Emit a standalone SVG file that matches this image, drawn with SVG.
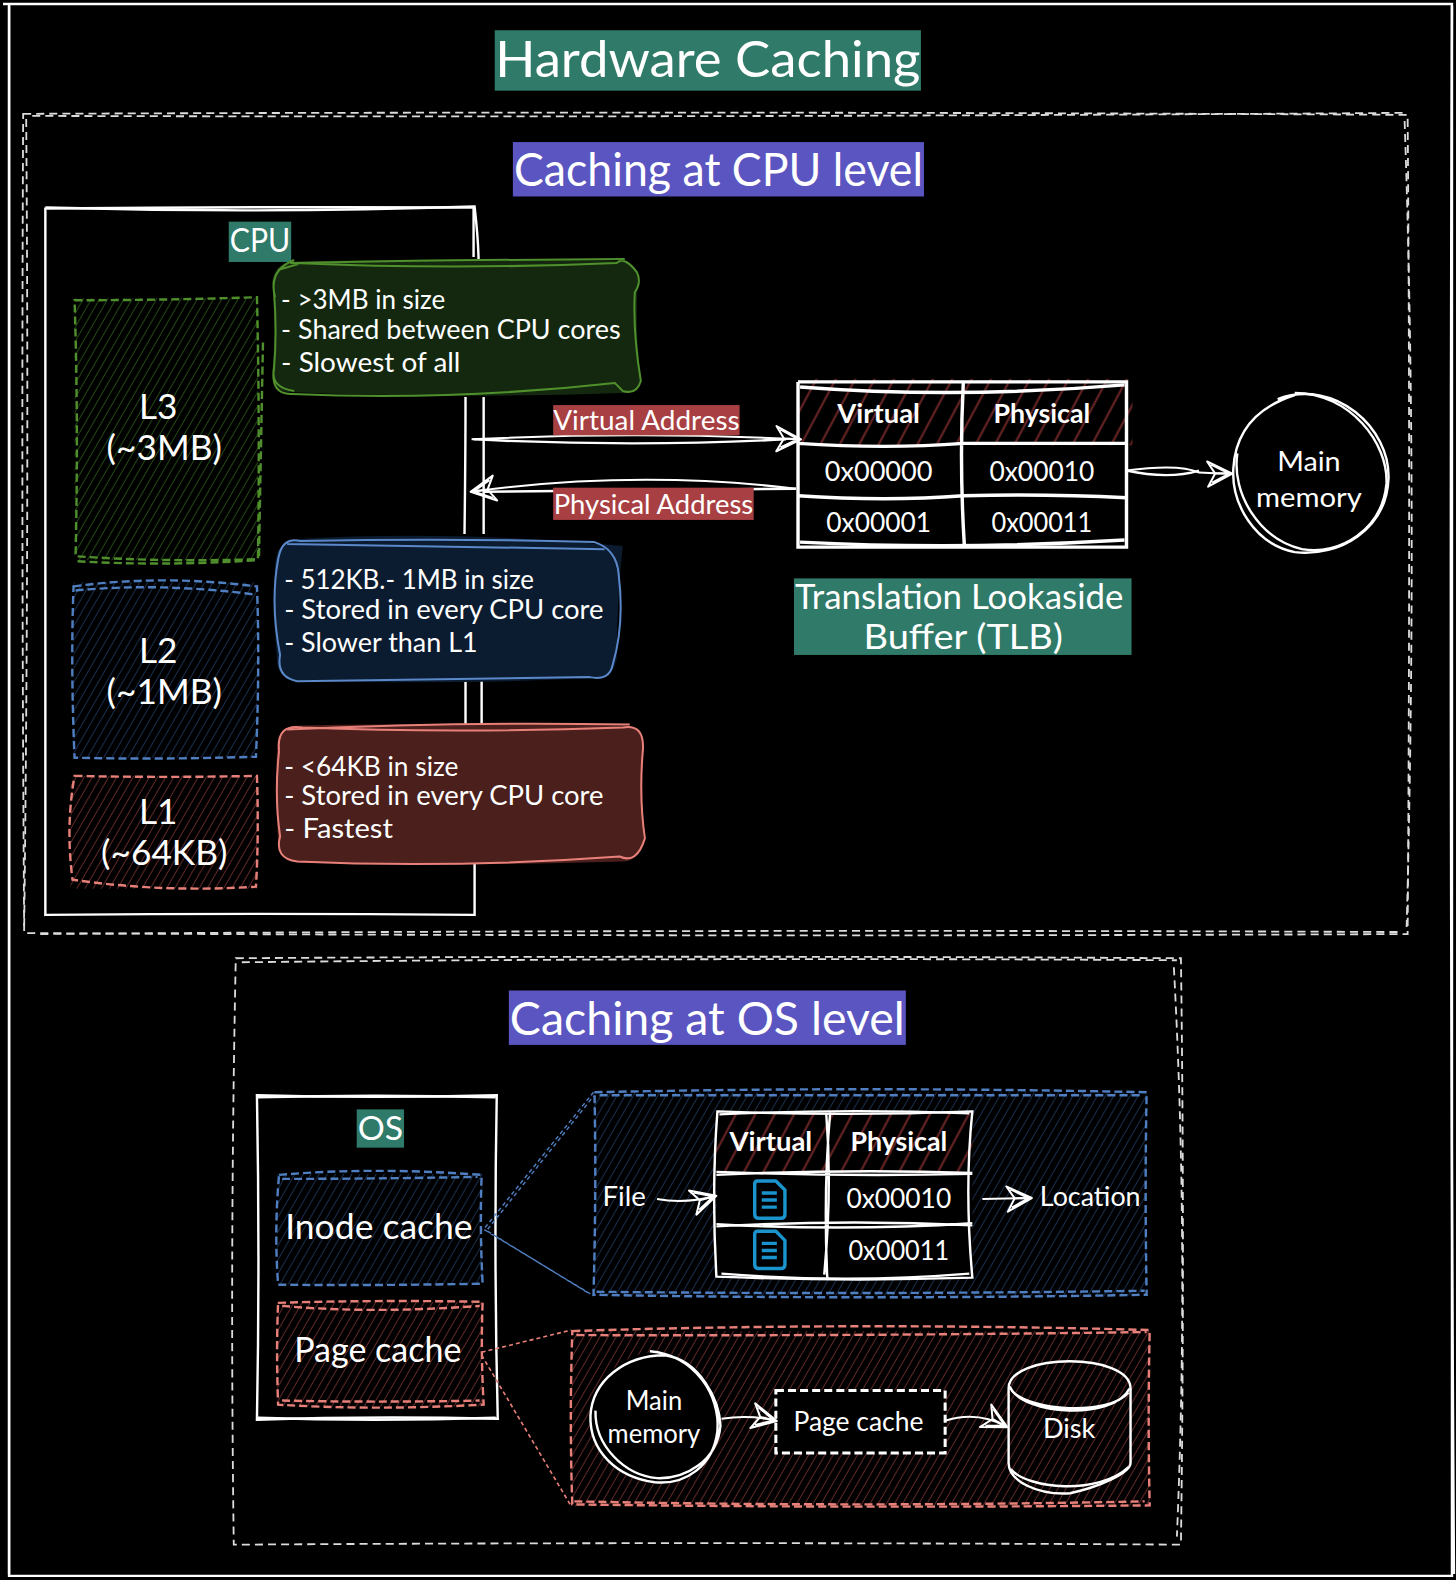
<svg xmlns="http://www.w3.org/2000/svg" width="1456" height="1580" viewBox="0 0 1456 1580">
<style>
text{font-family:"Lato","Open Sans",sans-serif;fill:#fff;text-anchor:middle}
.st{text-anchor:start}
.t50{font-size:50px}.t46{font-size:47px}.t36{font-size:35px}.t33{font-size:33px}.t28{font-size:27px}.t26{font-size:26px}
.b{font-weight:700}
.w{fill:none;stroke:#fff;stroke-width:2.4}
.w3{fill:none;stroke:#fff;stroke-width:3.4}
.d{fill:none;stroke:#dcdcdc;stroke-width:1.8;stroke-dasharray:8 5}
.dg{stroke:#4f8f2c;stroke-width:2.4;stroke-dasharray:8 4}
.db{stroke:#4f7fc0;stroke-width:2.4;stroke-dasharray:8 4}
.dr{stroke:#e8807a;stroke-width:2.4;stroke-dasharray:8 4}
.dw{fill:#000;stroke:#fff;stroke-width:3;stroke-dasharray:8 4}
.n{fill:none}
.green{fill:#2f7a68}.blue{fill:#5a55c0}.red{fill:#a83f42}
.ar{fill:none;stroke:#fff;stroke-width:2;marker-end:url(#arrow)}
.ic{fill:none;stroke:#1b93cc;stroke-width:3.4;stroke-linejoin:round}
</style>
<defs>
<pattern id="hg" patternUnits="userSpaceOnUse" width="7" height="7" patternTransform="rotate(30)"><path d="M3 0V7" stroke="#234a14" stroke-width="1"/></pattern>
<pattern id="hb" patternUnits="userSpaceOnUse" width="7" height="7" patternTransform="rotate(30)"><path d="M3 0V7" stroke="#1a2f4e" stroke-width="1"/></pattern>
<pattern id="hr" patternUnits="userSpaceOnUse" width="7" height="7" patternTransform="rotate(30)"><path d="M3 0V7" stroke="#62292a" stroke-width="1"/></pattern>
<pattern id="hm" patternUnits="userSpaceOnUse" width="17" height="17" patternTransform="rotate(28)"><path d="M8 0V17" stroke="#6e2626" stroke-width="2"/></pattern>
<marker id="arrow" markerUnits="userSpaceOnUse" markerWidth="32" markerHeight="32" refX="26" refY="16" orient="auto">
<path d="M2 4L27 16L3 29L10 16ZM6 7L24 16L7 25M10 16H24" fill="none" stroke="#fff" stroke-width="2" stroke-linejoin="round"/>
</marker>
</defs>
<rect width="1456" height="1580" fill="#000"/>
<g transform="scale(1.00761)">
<g id="frame">
<path class="w" d="M3 4Q700 7 1441 4Q1444 800 1441 1564Q700 1567 9 1564Q6 800 9 4"/>
<path class="w" d="M9 6Q12 800 9 1562M1441 6Q1438 800 1443 1562"/>
</g>
<g id="title"><rect class="green" x="491" y="30" width="423" height="60"/><text class="t50" x="702.500" y="76" textLength="422" lengthAdjust="spacingAndGlyphs">Hardware Caching</text></g>
<g id="cpu-level">
<path class="d" d="M23 113Q700 110 1397 114Q1400 500 1397 927Q700 930 24 926Q21 500 23 113Z"/>
<path class="d" d="M32 115Q700 117 1393 112M1394 120Q1407 500 1396 920M40 927Q700 922 1390 925M26 118Q29 500 24 920"/>
<rect class="blue" x="509" y="141" width="408" height="54"/><text class="t46" x="713" y="185" textLength="406" lengthAdjust="spacingAndGlyphs">Caching at CPU level</text>
</g>
<g id="cpu">
<path class="w" d="M45 206Q260 212 471 205Q475 240 475 262M470 205V255M462 394Q462 450 461 530M480 394V530M462 670V736M478 670V736M471 855V908Q260 906 45 908V206"/>
<path class="w" d="M46 207Q260 205 471 206"/>
<rect class="green" x="227" y="220" width="62" height="40"/><text class="t33" x="258" y="250" textLength="60" lengthAdjust="spacingAndGlyphs">CPU</text>
</g>
<g id="l3">
<rect x="74" y="296" width="182" height="260" fill="url(#hg)"/>
<path class="n dg" d="M74 298Q160 298 255 295Q258 420 256 555Q160 558 75 552Q78 420 74 298Z"/><path class="n dg" d="M77 557Q160 562 255 556M261 340Q259 440 257 555"/>
<text class="t36" x="157" y="416">L3</text><text class="t36" x="163" y="457">(~3MB)</text>
</g>
<g id="l2">
<rect x="73" y="578" width="182" height="174" fill="url(#hb)"/>
<path class="n db" d="M73 582Q160 570 255 582Q258 660 254 751Q160 754 74 752Q70 660 73 582Z"/><path class="n db" d="M75 586Q160 578 253 590"/>
<text class="t36" x="157" y="658">L2</text><text class="t36" x="163" y="699">(~1MB)</text>
</g>
<g id="l1">
<rect x="70" y="770" width="185" height="112" fill="url(#hr)"/>
<path class="n dr" d="M74 770Q160 772 255 770Q257 830 254 880Q160 886 72 873Q65 820 74 770Z"/>
<text class="t36" x="157" y="818">L1</text><text class="t36" x="163" y="858">(~64KB)</text>
</g>
<g id="l3-note">
<path d="M270 280Q272 262 290 260Q450 255 618 259Q633 262 633 280Q630 330 636 375Q634 392 616 390Q450 396 286 389Q270 388 270 372Q275 330 270 280Z" fill="#14280f"/>
<path d="M273 295Q266 268 292 258M276 268L296 262M292 261Q450 268 612 261Q620 254 632 270Q637 280 630 290Q628 330 636 378Q632 392 618 388L610 380Q450 398 290 391Q268 392 272 365Q275 330 272 290M288 261Q450 258 620 257M272 365Q268 385 292 388" fill="none" stroke="#4f8f2c" stroke-width="2"/>
<text class="t26 st" x="279" y="307" textLength="163" lengthAdjust="spacingAndGlyphs">- &gt;3MB in size</text>
<text class="t26 st" x="279" y="336" textLength="337" lengthAdjust="spacingAndGlyphs">- Shared between CPU cores</text>
<text class="t26 st" x="279" y="369" textLength="178" lengthAdjust="spacingAndGlyphs">- Slowest of all</text>
</g>
<g id="l2-note">
<path d="M273 560Q275 535 296 535Q450 526 618 542Q612 600 612 655Q606 675 590 673Q450 680 292 675Q274 670 275 655Q270 600 273 560Z" fill="#0c1c30"/>
<path d="M276 555Q280 532 298 537Q450 534 590 538Q612 545 614 570Q620 620 608 660Q605 676 585 672Q450 674 295 676Q274 672 278 650Q268 600 276 555M285 540Q450 542 600 545" fill="none" stroke="#5a88c8" stroke-width="2"/>
<text class="t26 st" x="282" y="585" textLength="248" lengthAdjust="spacingAndGlyphs">- 512KB.- 1MB in size</text>
<text class="t26 st" x="282" y="614" textLength="317" lengthAdjust="spacingAndGlyphs">- Stored in every CPU core</text>
<text class="t26 st" x="282" y="647" textLength="192" lengthAdjust="spacingAndGlyphs">- Slower than L1</text>
</g>
<g id="l1-note">
<path d="M275 740Q277 720 298 720Q450 717 620 720Q638 722 638 742Q636 790 639 835Q634 856 616 855Q450 860 296 856Q277 854 276 836Q273 790 275 740Z" fill="#4a1f1c"/>
<path d="M277 745Q274 718 300 722Q450 728 618 722Q640 718 638 745Q634 790 640 832Q632 858 615 850Q450 862 295 855Q272 852 278 830Q272 790 277 745M285 724Q450 716 625 719" fill="none" stroke="#e8807a" stroke-width="2"/>
<text class="t26 st" x="282" y="770" textLength="173" lengthAdjust="spacingAndGlyphs">- &lt;64KB in size</text>
<text class="t26 st" x="282" y="799" textLength="317" lengthAdjust="spacingAndGlyphs">- Stored in every CPU core</text>
<text class="t26 st" x="282" y="832" textLength="108" lengthAdjust="spacingAndGlyphs">- Fastest</text>
</g>
<g id="tlb">
<rect x="792" y="376" width="332" height="66" fill="url(#hm)"/>
<path class="w3" d="M792 379H1118V543H792V379"/>
<path class="w3" d="M794 384Q950 396 1116 382M792 440Q880 446 956 440H1118M792 492Q880 498 956 492Q1040 490 1118 494M794 538Q950 546 1116 536M956 380Q952 460 957 540"/>
<text class="t28 b" x="872" y="420" textLength="82" lengthAdjust="spacingAndGlyphs">Virtual</text>
<text class="t28 b" x="1034" y="420" textLength="96" lengthAdjust="spacingAndGlyphs">Physical</text>
<text class="t28" x="872" y="477" textLength="107" lengthAdjust="spacingAndGlyphs">0x00000</text>
<text class="t28" x="1034" y="477" textLength="104" lengthAdjust="spacingAndGlyphs">0x00010</text>
<text class="t28" x="872" y="528" textLength="104" lengthAdjust="spacingAndGlyphs">0x00001</text>
<text class="t28" x="1034" y="528" textLength="100" lengthAdjust="spacingAndGlyphs">0x00011</text>
</g>
<g id="tlb-label"><rect class="green" x="788" y="574" width="335" height="76"/>
<text class="t36" x="952" y="604" textLength="326" lengthAdjust="spacingAndGlyphs">Translation Lookaside</text><text class="t36" x="956" y="644" textLength="198" lengthAdjust="spacingAndGlyphs">Buffer (TLB)</text></g>
<g id="main-memory">
<path class="w" d="M1268 396C1325 375 1380 425 1378 475C1376 525 1330 553 1285 548C1245 540 1222 500 1224 465C1226 430 1245 405 1285 392"/>
<path class="w" d="M1285 390C1340 390 1378 440 1376 480C1372 525 1330 552 1292 545C1250 535 1222 490 1228 450"/>
<text class="t28" x="1299" y="467" textLength="63" lengthAdjust="spacingAndGlyphs">Main</text><text class="t28" x="1299" y="503" textLength="105" lengthAdjust="spacingAndGlyphs">memory</text>
</g>
<g id="os-level">
<path class="d" d="M234 951Q700 948 1172 951Q1176 1240 1172 1533Q700 1530 232 1533Q228 1240 234 951Z"/>
<path class="d" d="M240 955Q700 950 1168 953M1165 960Q1180 1240 1168 1525"/>
<rect class="blue" x="505" y="983" width="394" height="54"/><text class="t46" x="702" y="1027" textLength="392" lengthAdjust="spacingAndGlyphs">Caching at OS level</text>
</g>
<g id="os">
<path class="w" d="M255 1087Q370 1090 493 1087Q490 1250 494 1408Q370 1405 255 1409Q258 1250 255 1087Z"/>
<path class="w" d="M256 1089Q370 1086 492 1089M256 1407Q370 1411 492 1407"/>
<rect class="green" x="354" y="1101" width="47" height="38"/><text class="t33" x="377.500" y="1131" textLength="45" lengthAdjust="spacingAndGlyphs">OS</text>
</g>
<g id="inode-cache">
<rect x="275" y="1165" width="204" height="110" fill="url(#hb)"/>
<path class="n db" d="M277 1166Q370 1158 478 1166Q476 1220 479 1274Q370 1276 276 1275Q272 1220 277 1166Z"/><path class="n db" d="M280 1170Q370 1170 474 1168"/>
<text class="t36" x="376" y="1230" textLength="186" lengthAdjust="spacingAndGlyphs">Inode cache</text>
</g>
<g id="page-cache">
<rect x="275" y="1292" width="204" height="104" fill="url(#hr)"/>
<path class="n dr" d="M276 1293Q370 1290 479 1292Q477 1340 480 1394Q370 1400 276 1394Q274 1340 276 1293Z"/><path class="n dr" d="M280 1296Q370 1304 476 1296M280 1390Q370 1392 476 1390"/>
<text class="t36" x="375" y="1352" textLength="166" lengthAdjust="spacingAndGlyphs">Page cache</text>
</g>
<g id="inode-detail">
<rect x="589" y="1084" width="549" height="202" fill="url(#hb)"/>
<path class="n db" d="M590 1084Q860 1078 1138 1084Q1136 1180 1138 1285Q860 1290 589 1285Q592 1180 590 1084Z"/>
<path class="n db" d="M595 1087H1135M592 1282Q860 1285 1136 1281"/>
<text class="t28 st" x="598" y="1197" textLength="43" lengthAdjust="spacingAndGlyphs">File</text>
<text class="t28 st" x="1032" y="1197" textLength="100" lengthAdjust="spacingAndGlyphs">Location</text>
</g>
<g id="inode-table">
<rect x="711" y="1103" width="254" height="61" fill="#000"/><rect x="711" y="1103" width="254" height="61" fill="url(#hm)"/>
<rect x="711" y="1164" width="254" height="104" fill="#000"/>
<path class="w" d="M712 1103Q840 1108 965 1103Q957 1180 965 1268Q840 1272 711 1267Q706 1180 712 1103Z"/>
<path class="w" d="M714 1106Q840 1100 962 1105M711 1166Q840 1160 965 1164M711 1163Q840 1168 965 1165M711 1215Q840 1222 965 1214M711 1217Q840 1210 965 1216M824 1103Q817 1180 821 1268M820 1105Q826 1180 818 1265M716 1264Q840 1274 962 1264"/>
<text class="t28 b" x="765" y="1142" textLength="82" lengthAdjust="spacingAndGlyphs">Virtual</text>
<text class="t28 b" x="892" y="1142" textLength="96" lengthAdjust="spacingAndGlyphs">Physical</text>
<text class="t28" x="892" y="1199" textLength="104" lengthAdjust="spacingAndGlyphs">0x00010</text>
<text class="t28" x="892" y="1250" textLength="100" lengthAdjust="spacingAndGlyphs">0x00011</text>
<g id="file-1"><path class="ic" d="M752 1172H770L779 1181V1205Q779 1209 775 1209H753Q749 1209 749 1205V1175Q749 1172 752 1172ZM756 1184H771M756 1191H771M756 1198H771"/></g>
<g id="file-2"><path class="ic" d="M752 1222H770L779 1231V1255Q779 1259 775 1259H753Q749 1259 749 1255V1225Q749 1222 752 1222ZM756 1234H771M756 1241H771M756 1248H771"/></g>
</g>
<g id="page-detail">
<rect x="567" y="1321" width="574" height="174" fill="url(#hr)"/>
<path class="n dr" d="M568 1321Q850 1312 1141 1320Q1139 1410 1141 1494Q850 1497 568 1493Q565 1410 568 1321Z"/>
<path class="n dr" d="M572 1325Q850 1326 1138 1322M570 1490Q850 1496 1136 1490"/>
</g>
<g id="main-memory-2">
<path d="M650 1342C690 1342 716 1380 714 1415C712 1450 680 1475 650 1472C612 1468 586 1440 586 1405C586 1375 615 1342 650 1342Z" fill="#000"/>
<path class="w" d="M645 1341C690 1345 715 1385 712 1420C708 1455 680 1474 650 1471C612 1466 585 1440 586 1405C588 1370 620 1345 660 1345C695 1350 714 1390 715 1415C712 1450 680 1468 652 1467C620 1464 590 1435 591 1400"/>
<text class="t28" x="649" y="1399" textLength="56" lengthAdjust="spacingAndGlyphs">Main</text><text class="t28" x="649" y="1432" textLength="92" lengthAdjust="spacingAndGlyphs">memory</text>
</g>
<g id="page-cache-box"><rect class="dw" x="770" y="1380" width="168" height="62"/><text class="t28" x="852" y="1420" textLength="129" lengthAdjust="spacingAndGlyphs">Page cache</text></g>
<g id="disk">
<path class="w" d="M1001 1378C1001 1342 1122 1342 1122 1378V1452C1122 1462 1090 1476 1062 1482C1030 1484 1001 1470 1001 1452Z"/>
<path class="w" d="M1002 1376C1015 1405 1105 1410 1121 1378M1004 1380C1020 1400 1100 1406 1120 1382M1003 1458C1020 1478 1090 1484 1120 1456"/>
<text class="t28" x="1061" y="1427" textLength="52" lengthAdjust="spacingAndGlyphs">Disk</text>
</g>
<g id="connectors">
<path class="ar" d="M468 436Q630 428 794 436"/><path class="w" d="M470 436Q630 444 780 436" />
<path class="ar" d="M790 485Q630 466 468 488"/><path class="w" d="M790 485L480 488"/>
<path class="ar" d="M1118 467Q1170 460 1190 469Q1205 470 1222 470"/><path class="w" d="M1118 467Q1160 476 1190 467"/>
<path class="n" stroke="#4f7fc0" stroke-width="1.4" stroke-dasharray="4 3" d="M589 1084L480 1220L589 1286M484 1220L589 1088M484 1222L585 1284"/>
<path class="n" stroke="#e8807a" stroke-width="1.6" stroke-dasharray="4 3" d="M478 1342L567 1320M478 1345L567 1495"/>
<path class="ar" d="M652 1190Q680 1195 710 1187"/>
<path class="ar" d="M975 1190L1023 1189"/>
<path class="ar" d="M716 1408Q745 1404 770 1410"/>
<path class="ar" d="M938 1410Q970 1400 999 1416"/>
</g>
<g id="connector-labels">
<rect class="red" x="549" y="402" width="185" height="30"/><text class="t26" x="641.500" y="427" textLength="185" lengthAdjust="spacingAndGlyphs">Virtual Address</text>
<rect class="red" x="549" y="484" width="199" height="32"/><text class="t26" x="648.500" y="510" textLength="198" lengthAdjust="spacingAndGlyphs">Physical Address</text>
</g>
</g>
</svg>
